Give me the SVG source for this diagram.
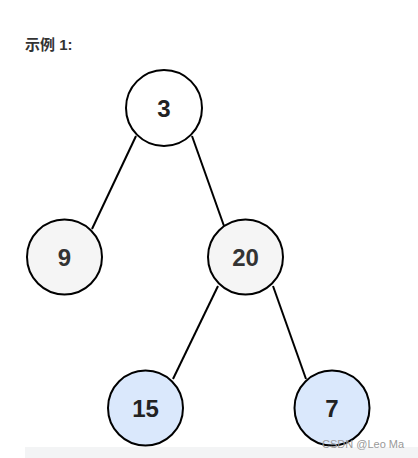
<svg xmlns="http://www.w3.org/2000/svg" width="418" height="458" viewBox="0 0 418 458">
<style>
.edge{stroke:#000;stroke-width:2;fill:none}
.node{stroke:#000;stroke-width:2}
.lbl{font-family:"Liberation Sans",Arial,sans-serif;font-weight:bold;font-size:24px;text-anchor:middle;fill:#222}
</style>
<rect width="418" height="458" fill="#fff"/>
<text x="25" y="50" font-family="'Liberation Sans','Noto Sans CJK SC',sans-serif" font-weight="bold" font-size="15" fill="#333">示例 1:</text>
<g id="edges">
<line class="edge" x1="136" y1="136" x2="92" y2="229"/>
<line class="edge" x1="192" y1="136" x2="224" y2="226"/>
<line class="edge" x1="218" y1="286" x2="173" y2="379"/>
<line class="edge" x1="273" y1="286" x2="306" y2="379"/>
</g>
<g id="n3"><circle class="node" cx="164" cy="108" r="38" fill="#fff"/><text class="lbl" x="164" y="117" fill="#111">3</text></g>
<g id="n9"><circle class="node" cx="64.5" cy="257" r="37.5" fill="#f5f5f5"/><text class="lbl" x="64.5" y="266" style="fill:#333">9</text></g>
<g id="n20"><circle class="node" cx="245.5" cy="257" r="37.5" fill="#f5f5f5"/><text class="lbl" x="245.5" y="266" style="fill:#333">20</text></g>
<g id="n15"><circle class="node" cx="145.5" cy="408" r="37.5" fill="#dae8fc"/><text class="lbl" x="145.5" y="417">15</text></g>
<g id="n7"><circle class="node" cx="332" cy="408" r="37.5" fill="#dae8fc"/><text class="lbl" x="332" y="417">7</text></g>
<rect x="25" y="447" width="393" height="11" fill="#f3f4f5"/>
<text x="322" y="448" font-family="'Liberation Sans',Arial,sans-serif" font-size="11" fill="#999">CSDN @Leo Ma</text>
</svg>
